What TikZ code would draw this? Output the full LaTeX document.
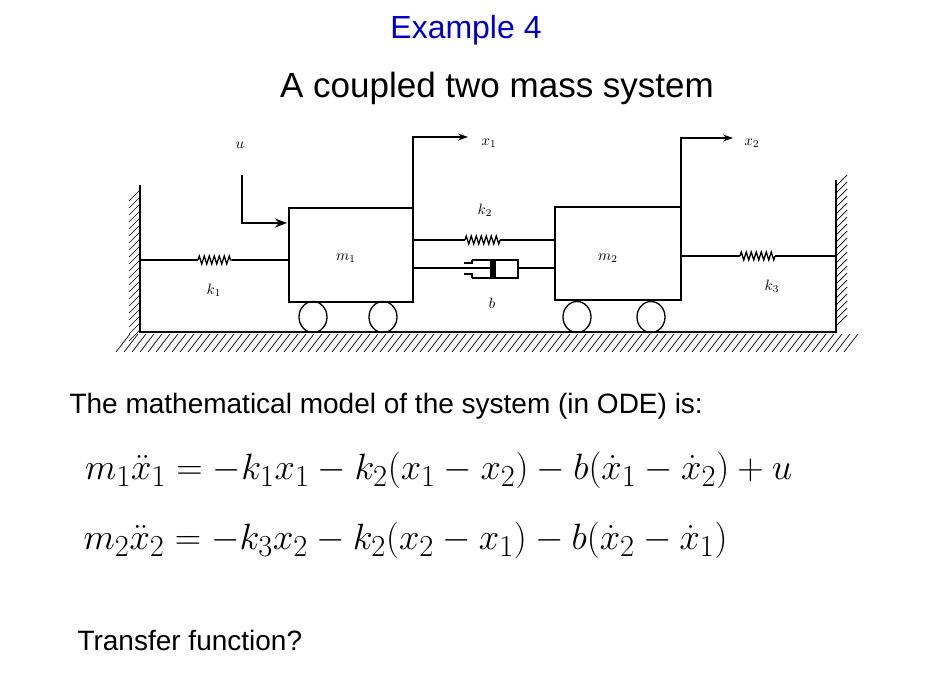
\documentclass[tikz,border=0pt]{standalone}
\usepackage{fontspec}
\setmainfont{Liberation Sans}
\newfontfamily\serif{Liberation Serif}
\usetikzlibrary{decorations.pathmorphing,arrows.meta,shapes.geometric}
\tikzset{
  ln/.style={line width=1.3pt},
  spr/.style={ln,decorate,decoration={zigzag,segment length=5pt,amplitude=4pt,pre length=0pt,post length=0pt}},
  hat/.style={line width=0.7pt},
  lab/.style={scale=1.5},
  arr/.style={ln,-{Stealth[length=10pt,width=7pt]}},
}
\begin{document}
\begin{tikzpicture}[x=1pt,y=-1pt]
\useasboundingbox (0,0) rectangle (948,684);
\node (title) at (466,30) {\fontsize{32}{32}\selectfont\color{blue!80!black}Example 4};
\node (sub) at (497,88) {\fontsize{35}{35}\selectfont A coupled two mass system};
% walls and floor
\draw[ln] (140,185) -- (140,332) -- (836,332) -- (836,180);
\foreach \y in {190,197,...,330} \draw[hat] (140,\y) -- (129,\y+11);
\foreach \y in {186,193,...,326} \draw[hat] (836,\y) -- (847,\y-11);
\foreach \x in {130,138,...,858} \draw[hat] (\x,334) -- (\x-14,352);
% masses
\node[draw,ln,minimum width=124pt,minimum height=94pt,inner sep=0pt] (m1) at (351,255) {};
\node[draw,ln,minimum width=126pt,minimum height=93pt,inner sep=0pt] (m2) at (618,253.5) {};
\node[lab] (m1l) at (346,258) {$m_1$};
\node[lab] (m2l) at (608,258) {$m_2$};
% wheels
\foreach \c/\n in {313/w1,383/w2,577/w3,651/w4}
  \node[draw,ln,ellipse,minimum width=28pt,minimum height=31pt,inner sep=0pt] (\n) at (\c,317) {};
% k1
\coordinate (a1) at (140,260); \coordinate (a2) at (198,260); \coordinate (a3) at (232,260);
\draw[ln] (a1) -- (a2); \draw[spr] (a2) -- (a3); \draw[ln] (a3) -- (289,260);
\node[lab] (k1) at (214,290) {$k_1$};
% k2
\draw[ln] (413,240) -- (465,240); \draw[spr] (465,240) -- (500,240); \draw[ln] (500,240) -- (555,240);
\node[lab] (k2) at (485,210) {$k_2$};
% damper
\draw[ln] (413,268) -- (493,268); \draw[ln] (518,268) -- (555,268);
\draw[ln] (472,260) -- (518,260) -- (518,278) -- (472,278);
\draw[ln] (464,263) -- (472,263) -- (472,260); \draw[ln] (464,274) -- (472,274) -- (472,278);
\fill (490,261) rectangle (496,277);
\node[lab] (b) at (492,303) {$b$};
% k3
\draw[ln] (681,256) -- (740,256); \draw[spr] (740,256) -- (775,256); \draw[ln] (775,256) -- (836,256);
\node[lab] (k3) at (772,286) {$k_3$};
% u
\draw[line width=2.5pt,-{Stealth[length=12pt,width=9pt]}] (242,175) -- (242,223) -- (287,223);
\node[lab] (u) at (240,145) {$u$};
% x1 x2
\draw[arr] (413,208) -- (413,137) -- (468,137);
\node[lab] (x1) at (489,143) {$x_1$};
\draw[arr] (681,207) -- (681,138) -- (733,138);
\node[lab] (x2) at (752,143) {$x_2$};
% text
\node[anchor=west] (t1) at (66,406) {\fontsize{28}{28}\selectfont The mathematical model of the system (in ODE) is:};
\node[anchor=west,scale=1.47,transform shape=false] (e1) at (80,470) {\Huge $m_1\ddot{x}_1=-k_1x_1-k_2(x_1-x_2)-b(\dot{x}_1-\dot{x}_2)+u$};
\node[anchor=west] (e2) at (80,540) {\scalebox{1.47}{\Huge $m_2\ddot{x}_2=-k_3x_2-k_2(x_2-x_1)-b(\dot{x}_2-\dot{x}_1)$}};
\node[anchor=west] (t2) at (74,640) {\fontsize{28}{28}\selectfont Transfer function?};
\end{tikzpicture}
\end{document}
